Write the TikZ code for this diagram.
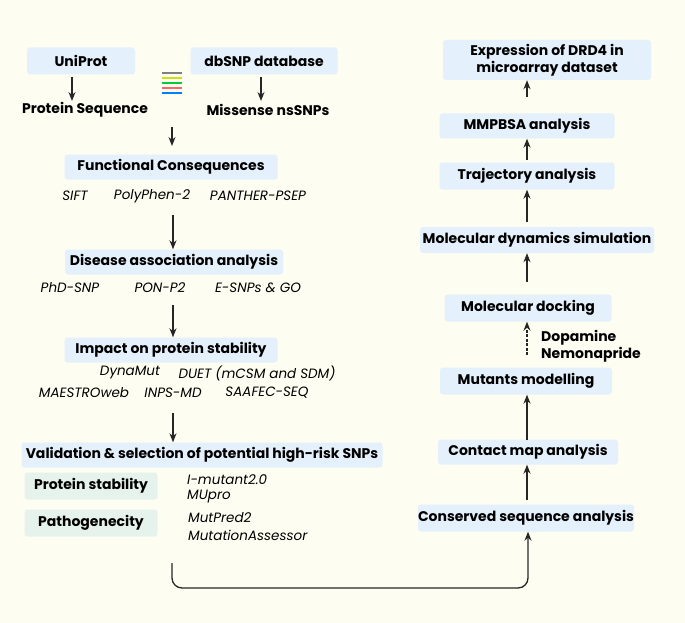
\documentclass[tikz,border=0pt]{standalone}
\usepackage{fontspec}
\setmainfont{Poppins}
\usetikzlibrary{arrows.meta}
\definecolor{bg}{HTML}{FDFDF2}
\definecolor{bx}{HTML}{E4F0FB}
\definecolor{gx}{HTML}{E6F3EC}
\begin{document}
\begin{tikzpicture}[x=1pt,y=-1pt,
  box/.style={fill=bx,rounded corners=3pt,font=\fontsize{14}{17}\selectfont\bfseries,inner sep=0pt},
  gbox/.style={fill=gx,rounded corners=3pt,font=\fontsize{14}{17}\selectfont\bfseries,inner sep=0pt,minimum width=133,minimum height=27},
  lab/.style={font=\fontsize{14}{17}\selectfont\bfseries,inner sep=1pt},
  it/.style={font=\fontsize{13.5}{16}\selectfont\itshape,inner sep=1pt},
  arr/.style={-{Stealth[length=9pt,width=7pt]},line width=1.3pt,black!85},
  ln/.style={line width=1pt,black!85}]
\fill[bg] (0,0) rectangle (685,623);
\useasboundingbox (0,0) rectangle (685,623);
% left top
\node[box,minimum width=108,minimum height=27] (uni) at (81,61) {UniProt};
\node[box,minimum width=147,minimum height=27] (db) at (264,61) {dbSNP database};
\node[lab] (ps) at (85,110) {Protein Sequence};
\node[lab] (ms) at (268,110) {Missense nsSNPs};
\foreach \c/\y in {gray/73,yellow!80!green/78,green!60!teal/83,red!60/88,blue!50!cyan/93}
  \fill[\c] (162,\y-1.2) rectangle (182,\y+1.2);
\draw[arr] (72,77) -- (72,101);
\draw[arr] (261,77) -- (261,101);
\coordinate (m1) at (172,127);
\node[box,minimum width=213,minimum height=25] (fc) at (171,167) {Functional Consequences};
\draw[arr] (m1) -- (172,146);
\node[it] (t1) at (75,196) {SIFT};
\node[it] (t2) at (152,196) {PolyPhen-2};
\node[it] (t3) at (258,196) {PANTHER-PSEP};
\node[box,minimum width=218,minimum height=25] (da) at (174,262) {Disease association analysis};
\draw[arr] (173,215) -- (da.north -| 173,0);
\node[it] (t4) at (70,288) {PhD-SNP};
\node[it] (t5) at (160,288) {PON-P2};
\node[it] (t6) at (258,288) {E-SNPs \& GO};
\node[box,minimum width=213,minimum height=25] (ip) at (171,350) {Impact on protein stability};
\draw[arr] (173,305) -- (ip.north -| 173,0);
\node[it] (t7) at (130,373) {DynaMut};
\node[it] (t8) at (257,373) {DUET (mCSM and SDM)};
\node[it] (t9) at (84,393) {MAESTROweb};
\node[it] (t10) at (173,393) {INPS-MD};
\node[it] (t11) at (267,393) {SAAFEC-SEQ};
\node[box,minimum width=361,minimum height=25] (va) at (202,455) {Validation \& selection of potential high-risk SNPs};
\draw[arr] (173,413) -- (va.north -| 173,0);
\node[gbox] (pst) at (91,486) {Protein stability};
\node[gbox] (pat) at (91,523) {Pathogenecity};
\node[it,anchor=west] (t12) at (186,480) {I-mutant2.0};
\node[it,anchor=west] (t13) at (186,497) {MUpro};
\node[it,anchor=west] (t14) at (187,518) {MutPred2};
\node[it,anchor=west] (t15) at (187,535) {MutationAssessor};
% right column
\node[box,minimum width=208,minimum height=40,align=center] (ex) at (547,60) {Expression of DRD4 in\\microarray dataset};
\node[box,minimum width=175,minimum height=25] (mm) at (527,126) {MMPBSA analysis};
\node[box,minimum width=175,minimum height=27] (tr) at (527,176) {Trajectory analysis};
\node[box,minimum width=234,minimum height=26] (md) at (537,240) {Molecular dynamics simulation};
\node[box,minimum width=167,minimum height=27] (dk) at (528,308) {Molecular docking};
\node[box,minimum width=172,minimum height=27] (mu) at (526,381) {Mutants modelling};
\node[box,minimum width=180,minimum height=25] (cm) at (528,452) {Contact map analysis};
\node[box,minimum width=212,minimum height=27] (cs) at (526,518) {Conserved sequence analysis};
\node[lab,anchor=west,align=left] (lig) at (540,346) {Dopamine\\Nemonapride};
\draw[arr] (527,97) -- (ex.south -| 527,0);
\draw[arr] (527,160) -- (mm.south -| 527,0);
\draw[arr] (527,222) -- (tr.south -| 527,0);
\draw[arr] (527,282) -- (md.south -| 527,0);
\draw[arr,dash pattern=on 3pt off 1.5pt] (527,355) -- (dk.south -| 527,0);
\draw[arr] (527,440) -- (mu.south -| 527,0);
\draw[arr] (527,500) -- (cm.south -| 527,0);
\coordinate (b1) at (172,563);
\coordinate (b2) at (172,588);
\coordinate (b3) at (528,588);
\draw[arr,rounded corners=10pt] (b1) -- (b2) -- (b3) -- (cs.south -| 528,0);
\end{tikzpicture}
\end{document}
